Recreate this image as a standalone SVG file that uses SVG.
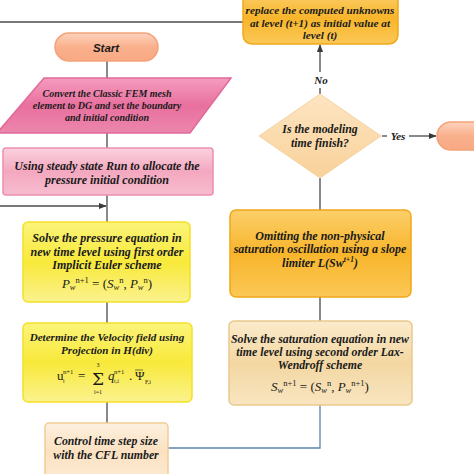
<svg xmlns="http://www.w3.org/2000/svg" width="474" height="474" viewBox="0 0 474 474">
<defs>
<linearGradient id="gStart" x1="0" y1="0" x2="0" y2="1"><stop offset="0" stop-color="#fdd3bd"/><stop offset="0.5" stop-color="#f9b08c"/><stop offset="1" stop-color="#f8a983"/></linearGradient>
<linearGradient id="gPara" x1="0" y1="0" x2="0" y2="1"><stop offset="0" stop-color="#f59cbf"/><stop offset="0.5" stop-color="#e8709e"/><stop offset="1" stop-color="#ec86ad"/></linearGradient>
<linearGradient id="gPink" x1="0" y1="0" x2="0" y2="1"><stop offset="0" stop-color="#fbd2de"/><stop offset="0.5" stop-color="#f4a8c0"/><stop offset="1" stop-color="#f7bccf"/></linearGradient>
<linearGradient id="gYel" x1="0" y1="0" x2="0" y2="1"><stop offset="0" stop-color="#fbf47a"/><stop offset="0.5" stop-color="#f8e93a"/><stop offset="1" stop-color="#fbf28e"/></linearGradient>
<linearGradient id="gPeach" x1="0" y1="0" x2="0" y2="1"><stop offset="0" stop-color="#fdf0df"/><stop offset="0.5" stop-color="#fbe1c1"/><stop offset="1" stop-color="#fdebd5"/></linearGradient>
<linearGradient id="gTan" x1="0" y1="0" x2="0" y2="1"><stop offset="0" stop-color="#fbebcc"/><stop offset="0.5" stop-color="#f3d7a2"/><stop offset="1" stop-color="#f8e5c0"/></linearGradient>
<linearGradient id="gOr" x1="0" y1="0" x2="0" y2="1"><stop offset="0" stop-color="#fbcf6a"/><stop offset="0.5" stop-color="#f8b52b"/><stop offset="1" stop-color="#fbc856"/></linearGradient>
<linearGradient id="gDia" x1="0" y1="0" x2="0" y2="1"><stop offset="0" stop-color="#fde5c2"/><stop offset="1" stop-color="#f9d19a"/></linearGradient>
<marker id="arr" viewBox="0 0 10 10" refX="9" refY="5" markerWidth="6" markerHeight="6" orient="auto-start-reverse"><path d="M0,1 L10,5 L0,9 z" fill="#3a3a3a"/></marker>
<style>
.t{font-family:"Liberation Serif","DejaVu Serif",serif;font-weight:bold;font-style:italic;fill:#1a1a1a;text-anchor:middle}
.m{font-family:"Liberation Serif","DejaVu Serif",serif;fill:#1a1a1a;font-size:13px}
.s{font-family:"Liberation Serif","DejaVu Serif",serif;fill:#1a1a1a;font-size:12px}
.c{fill:none;stroke:#4a4a4a;stroke-width:1.3}
.b{fill:none;stroke:#5b84b1;stroke-width:1.3}
</style>
</defs>

<g id="connectors">
<line class="c" x1="0" y1="22" x2="243" y2="22"/>
<line class="c" x1="107" y1="61" x2="107" y2="78"/>
<line class="c" x1="107" y1="133" x2="107" y2="148"/>
<line class="c" x1="107" y1="195" x2="107" y2="222"/>
<line class="c" x1="0" y1="206" x2="106" y2="206" marker-end="url(#arr)"/>
<line class="c" x1="107" y1="302" x2="107" y2="323"/>
<line class="c" x1="107" y1="402" x2="107" y2="423"/>
<polyline class="b" points="168,448 320,448 320,405"/>
<line class="c" x1="320" y1="321" x2="320" y2="297"/>
<line class="c" x1="320" y1="210" x2="320" y2="178"/>
<line class="c" x1="320" y1="94" x2="320" y2="88"/>
<line class="c" x1="320" y1="72" x2="320" y2="45" marker-end="url(#arr)"/>
<line class="c" x1="382" y1="136" x2="387" y2="136"/>
<line class="c" x1="409" y1="136" x2="436" y2="136" marker-end="url(#arr)"/>
<text class="t" x="321" y="84" font-size="11" fill="#444">No</text>
<text class="t" x="398" y="140" font-size="11">Yes</text>
</g>

<g id="replace">
<rect x="243" y="-8" width="155" height="52" rx="9" fill="url(#gOr)" stroke="#f0a91c" stroke-width="1.5"/>
<text class="t" font-size="11.2"><tspan x="320" y="14">replace the computed unknowns</tspan><tspan x="320" y="27">at level (t+1) as initial value at</tspan><tspan x="320" y="39">level (t)</tspan></text>
</g>

<g id="start">
<rect x="55" y="33" width="103" height="28" rx="14" fill="url(#gStart)" stroke="#f4a27a" stroke-width="1.5"/>
<text x="106" y="52" font-family="Liberation Sans, Arial, sans-serif" font-weight="bold" font-style="italic" font-size="11.5" text-anchor="middle" fill="#1a1a1a">Start</text>
</g>

<g id="convert">
<polygon points="44,78 231,78 190,133 -3,133" fill="url(#gPara)" stroke="#e0699a" stroke-width="1.5"/>
<text class="t" font-size="10"><tspan x="107" y="97">Convert the Classic FEM mesh</tspan><tspan x="107" y="109">element to DG and set the boundary</tspan><tspan x="107" y="121">and initial condition</tspan></text>
</g>

<g id="steady">
<rect x="3" y="148" width="210" height="47" rx="3" fill="url(#gPink)" stroke="#ec8fae" stroke-width="1.5"/>
<text class="t" font-size="12"><tspan x="107" y="170">Using steady state Run to allocate the</tspan><tspan x="107" y="184">pressure initial condition</tspan></text>
</g>

<g id="pressure">
<rect x="23" y="222" width="167" height="80" rx="5" fill="url(#gYel)" stroke="#f5df28" stroke-width="1.5"/>
<text class="t" font-size="12"><tspan x="107" y="242">Solve the pressure equation in</tspan><tspan x="107" y="256">new time level using first order</tspan><tspan x="107" y="269">Implicit Euler scheme</tspan></text>
<text class="m" x="107" y="288" text-anchor="middle"><tspan font-style="italic">P</tspan><tspan font-size="8.5" font-style="italic" dy="2">w</tspan><tspan font-size="8.5" dy="-7">n+1</tspan><tspan dy="5"> = (</tspan><tspan font-style="italic">S</tspan><tspan font-size="8.5" font-style="italic" dy="2">w</tspan><tspan font-size="8.5" dy="-7">n</tspan><tspan dy="5">, </tspan><tspan font-style="italic">P</tspan><tspan font-size="8.5" font-style="italic" dy="2">w</tspan><tspan font-size="8.5" dy="-7">n</tspan><tspan dy="5">)</tspan></text>
</g>

<g id="velocity">
<rect x="23" y="323" width="169" height="79" rx="5" fill="url(#gYel)" stroke="#f5df28" stroke-width="1.5"/>
<text class="t" font-size="11.1"><tspan x="107" y="341">Determine the Velocity field using</tspan><tspan x="107" y="354">Projection in H(div)</tspan></text>
<text class="m" x="57" y="380" font-size="11">u</text>
<text class="s" transform="translate(63,383) scale(0.5)">t</text>
<text class="s" transform="translate(63,374) scale(0.55)">n+1</text>
<text class="m" x="78" y="380" font-size="11">=</text>
<text x="98" y="385" font-family="DejaVu Serif, serif" font-size="17" text-anchor="middle" fill="#1a1a1a">Σ</text>
<text class="s" text-anchor="middle" transform="translate(98,367) scale(0.5)">3</text>
<text class="s" text-anchor="middle" transform="translate(98,394) scale(0.5)">i=1</text>
<text class="m" x="108" y="380" font-size="11" font-style="italic">q</text>
<text class="s" transform="translate(114,383) scale(0.5)">t,i</text>
<text class="s" transform="translate(114,374) scale(0.55)">n+1</text>
<text class="m" x="129" y="380" font-size="11">.</text>
<text class="m" x="135" y="380" font-size="10">Ψ</text>
<text class="s" transform="translate(145,384) scale(0.5)">F,i</text>
<line x1="135" y1="370" x2="143" y2="370" stroke="#1a1a1a" stroke-width="0.6"/>
</g>

<g id="control">
<rect x="45" y="423" width="123" height="58" rx="4" fill="url(#gPeach)" stroke="#f3cb95" stroke-width="1.5"/>
<text class="t" font-size="11.8"><tspan x="106" y="445">Control time step size</tspan><tspan x="106" y="459">with the CFL number</tspan></text>
</g>

<g id="decision">
<polygon points="320,94 381,136 320,178 259,136" fill="url(#gDia)" stroke="#f8d3a0" stroke-width="1"/>
<text class="t" font-size="11.8"><tspan x="320" y="133">Is the modeling</tspan><tspan x="320" y="147">time finish?</tspan></text>
</g>

<g id="end">
<rect x="437" y="122" width="60" height="28" rx="14" fill="url(#gStart)" stroke="#f4a27a" stroke-width="1.5"/>
</g>

<g id="limiter">
<rect x="230" y="210" width="181" height="87" rx="6" fill="url(#gOr)" stroke="#f1a718" stroke-width="1.5"/>
<text class="t" font-size="12"><tspan x="320" y="240">Omitting the non-physical</tspan><tspan x="320" y="253">saturation oscillation using a slope</tspan><tspan x="320" y="267">limiter L(Sw<tspan font-size="7.5" dy="-5">t+1</tspan><tspan dy="5">)</tspan></tspan></text>
</g>

<g id="saturation">
<rect x="229" y="321" width="183" height="84" rx="5" fill="url(#gTan)" stroke="#e9c98d" stroke-width="1.5"/>
<text class="t" font-size="11.8"><tspan x="320" y="343">Solve the saturation equation in new</tspan><tspan x="320" y="356">time level using second order Lax-</tspan><tspan x="320" y="369">Wendroff scheme</tspan></text>
<text class="m" x="320" y="391" text-anchor="middle"><tspan font-style="italic">S</tspan><tspan font-size="8.5" font-style="italic" dy="2">w</tspan><tspan font-size="8.5" dy="-7">n+1</tspan><tspan dy="5"> = (</tspan><tspan font-style="italic">S</tspan><tspan font-size="8.5" font-style="italic" dy="2">w</tspan><tspan font-size="8.5" dy="-7">n</tspan><tspan dy="5">, </tspan><tspan font-style="italic">P</tspan><tspan font-size="8.5" font-style="italic" dy="2">w</tspan><tspan font-size="8.5" dy="-7">n+1</tspan><tspan dy="5">)</tspan></text>
</g>
</svg>
